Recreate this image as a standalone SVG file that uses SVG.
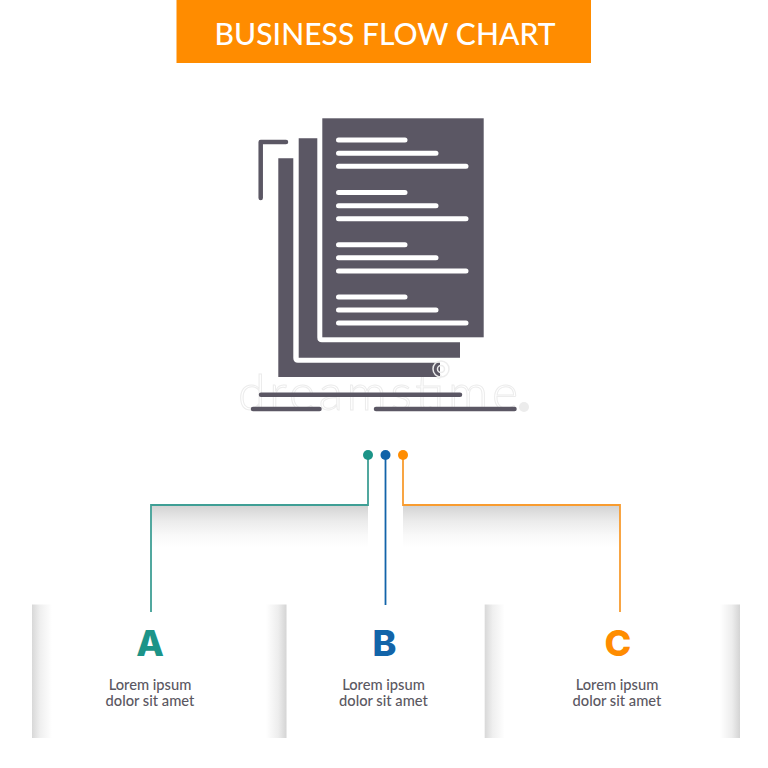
<svg xmlns="http://www.w3.org/2000/svg" width="768" height="768" viewBox="0 0 768 768">
<style>
.ink{fill:#5b5764}
.gl{stroke:#fff;stroke-width:5;stroke-linecap:round;fill:none}
.dl{stroke:#5b5764;stroke-width:4.5;stroke-linecap:round;fill:none}
.wm{font-family:"Lato","Liberation Sans",sans-serif;font-size:50px;font-weight:300;fill:none;stroke:#ececec;stroke-width:1}
.lab{font-family:"Lato","Liberation Sans",sans-serif;font-size:14.700px;font-weight:500;fill:#5b5862;text-anchor:middle}
.let{font-family:"Inter","Liberation Sans",sans-serif;font-size:36px;font-weight:800;text-anchor:middle}
.con{fill:none;stroke-width:1.800}
</style>
<defs>
<linearGradient id="down" x1="0" y1="0" x2="0" y2="1"><stop offset="0" stop-color="#d4d4d4"/><stop offset="0.35" stop-color="#ebebeb"/><stop offset="0.7" stop-color="#f9f9f9"/><stop offset="1" stop-color="#fff"/></linearGradient>
<linearGradient id="toR" x1="0" y1="0" x2="1" y2="0"><stop offset="0" stop-color="#d8d8d8"/><stop offset="0.4" stop-color="#efefef"/><stop offset="1" stop-color="#fff"/></linearGradient>
<linearGradient id="toL" x1="1" y1="0" x2="0" y2="0"><stop offset="0" stop-color="#d4d4d4"/><stop offset="0.4" stop-color="#ededed"/><stop offset="1" stop-color="#fff"/></linearGradient>
</defs>
<rect width="768" height="768" fill="#fff"/>
<g id="banner">
<rect x="176.500" y="0" width="414.500" height="63" fill="#ff8c00"/>
<text x="385" y="44.500" font-family="Lato, 'Liberation Sans', sans-serif" font-size="30" font-weight="500" fill="#fff" text-anchor="middle" textLength="341" lengthAdjust="spacing">BUSINESS FLOW CHART</text>
</g>
<g id="watermark">
<text class="wm" x="238" y="410" textLength="280" lengthAdjust="spacing">dreamstime</text>
<circle cx="524" cy="407" r="5" fill="#ececec"/>
</g>
<g id="icon">
<path class="ink" d="M278.300 158.300H293.300V358Q293.300 362.700 298 362.700H440V377H278.300Z"/>
<path class="ink" d="M298.700 138.300H317.300V337.500Q317.300 342.300 322 342.300H460V357.700H298.700Z"/>
<rect class="ink" x="322.300" y="118.300" width="161.400" height="219"/>
<path class="dl" d="M260.700 198V142H286" stroke-linejoin="round"/>
<path class="gl" d="M338.500 140H405M338.500 153.300H436M338.500 166.300H466M338.500 192.500H405M338.500 205.700H436M338.500 218.700H466M338.500 244.700H405M338.500 257.800H436M338.500 271H466M338.500 297H405M338.500 310H436M338.500 323H466"/>
<path class="dl" d="M261 394.700H460M253 409H319.500M376 409H514.500"/>
<circle cx="441" cy="369" r="8" fill="none" stroke="#ececec" stroke-width="1.500"/>
<circle cx="441" cy="369" r="3.500" fill="none" stroke="#ececec" stroke-width="1.500"/>
</g>
<g id="shadows">
<rect x="152" y="506" width="216" height="42" fill="url(#down)"/>
<rect x="403" y="506" width="217" height="42" fill="url(#down)"/>
</g>
<g id="connectors">
<path class="con" stroke="#3f9f95" d="M368 455V505H151V612"/>
<path class="con" stroke="#1264a9" d="M385.500 455V605"/>
<path class="con" stroke="#f89c30" d="M403 455V505H620V612"/>
</g>
<g id="dots">
<circle cx="368" cy="455" r="5" fill="#1c9488"/>
<circle cx="385.500" cy="455" r="5" fill="#1264a9"/>
<circle cx="403" cy="455" r="5" fill="#ff8c00"/>
</g>
<g id="card-a">
<rect x="32" y="604.500" width="20" height="133.500" fill="url(#toR)"/>
<text class="let" x="150" y="656" fill="#1c9488">A</text>
<text class="lab"><tspan x="150" y="690">Lorem ipsum</tspan><tspan x="150" y="706">dolor sit amet</tspan></text>
</g>
<g id="card-b">
<rect x="266" y="604.500" width="20.500" height="133.500" fill="url(#toL)"/>
<text class="let" x="384.500" y="656" fill="#1264a9">B</text>
<text class="lab"><tspan x="383.500" y="690">Lorem ipsum</tspan><tspan x="383.500" y="706">dolor sit amet</tspan></text>
</g>
<g id="card-c">
<rect x="484.700" y="604.500" width="20" height="133.500" fill="url(#toR)"/>
<rect x="720" y="604.500" width="20" height="133.500" fill="url(#toL)"/>
<text class="let" x="618" y="656" fill="#ff8c00">C</text>
<text class="lab"><tspan x="617" y="690">Lorem ipsum</tspan><tspan x="617" y="706">dolor sit amet</tspan></text>
</g>
</svg>
